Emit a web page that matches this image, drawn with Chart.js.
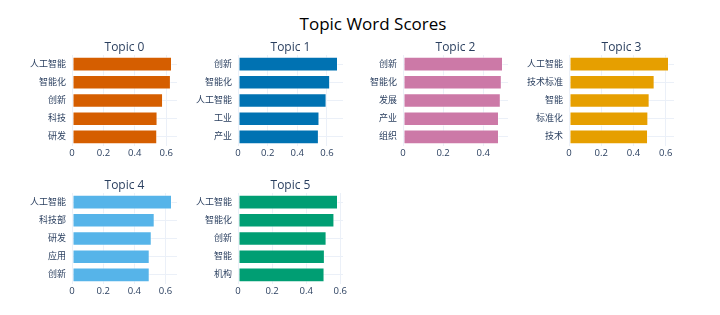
<!DOCTYPE html>
<html>
<head>
<meta charset="utf-8">
<script src="https://cdn.jsdelivr.net/npm/chart.js@4/dist/chart.umd.min.js"></script>
<style>
  html, body { margin: 0; padding: 0; background: #fff; }
  #page { position: relative; width: 720px; height: 315px; overflow: hidden; }
  #main-title {
    position: absolute; left: 0; top: 12px; width: 746px; text-align: center;
    font: 17px "Open Sans", "Noto Sans", sans-serif; color: #000;
  }
  .cell { position: absolute; }
</style>
</head>
<body>
<div id="page">
  <div id="main-title">Topic Word Scores</div>
</div>
<script>
// Topic Word Scores — one small horizontal bar chart per topic

const topicTitles = ['Topic 0', 'Topic 1', 'Topic 2', 'Topic 3', 'Topic 4', 'Topic 5'];

const words0 = ['人工智能', '智能化', '创新', '科技', '研发'];
const scores0 = [0.637, 0.630, 0.580, 0.545, 0.543];

const words1 = ['创新', '智能化', '人工智能', '工业', '产业'];
const scores1 = [0.675, 0.622, 0.598, 0.550, 0.546];

const words2 = ['创新', '智能化', '发展', '产业', '组织'];
const scores2 = [0.499, 0.493, 0.488, 0.479, 0.479];

const words3 = ['人工智能', '技术标准', '智能', '标准化', '技术'];
const scores3 = [0.620, 0.531, 0.500, 0.492, 0.490];

const words4 = ['人工智能', '科技部', '研发', '应用', '创新'];
const scores4 = [0.642, 0.531, 0.512, 0.499, 0.499];

const words5 = ['人工智能', '智能化', '创新', '智能', '机构'];
const scores5 = [0.587, 0.566, 0.520, 0.510, 0.508];

const allWords = [words0, words1, words2, words3, words4, words5];
const allScores = [scores0, scores1, scores2, scores3, scores4, scores5];
const barColors = ['#D55E00', '#0072B2', '#CC79A7', '#E69F00', '#56B4E9', '#009E73'];

// subplot grid (plot-area boxes, like plotly's make_subplots)
const colLefts = [72, 238, 403, 569];
const rowTops = [55, 192.5];
const plotW = 105;
const plotH = 91;
const yAxisW = 66;
const titleH = 15;
const xAxisH = 21;
const padRight = 8;

const FONT = '"Open Sans", "Noto Sans CJK SC", "Noto Sans", sans-serif';
const INK = '#2a3f5f';
const GRID = '#EBF0F8';

const page = document.getElementById('page');

allWords.forEach((words, i) => {
  const col = i % 4, row = Math.floor(i / 4);
  const w = yAxisW + plotW + padRight;
  const h = titleH + plotH + xAxisH;
  const div = document.createElement('div');
  div.className = 'cell';
  div.style.left = (colLefts[col] - yAxisW) + 'px';
  div.style.top = (rowTops[row] - titleH) + 'px';
  div.style.width = w + 'px';
  div.style.height = h + 'px';
  const cv = document.createElement('canvas');
  cv.width = w; cv.height = h;
  div.appendChild(cv);
  page.appendChild(div);

  const scores = allScores[i];
  new Chart(cv, {
    type: 'bar',
    data: {
      labels: words,
      datasets: [{
        data: scores,
        backgroundColor: barColors[i],
        borderColor: 'rgba(255,255,255,0.5)',
        borderWidth: 1,
        borderSkipped: false,
        barPercentage: 0.8,
        categoryPercentage: 1,
      }],
    },
    options: {
      indexAxis: 'y',
      responsive: false,
      animation: false,
      layout: { padding: { left: 0, right: padRight, top: 0, bottom: 0 } },
      plugins: {
        legend: { display: false },
        tooltip: { enabled: false },
        title: {
          display: true,
          fullSize: false, // centre over the plot area, not the canvas
          text: topicTitles[i],
          color: INK,
          font: { family: FONT, size: 12, weight: 'normal', lineHeight: 1.2 },
          padding: { top: 0, bottom: 0.6 },
        },
      },
      scales: {
        x: {
          min: 0,
          max: Math.max(...scores) * 1.05,
          border: { display: false },
          grid: { color: GRID, drawTicks: false },
          ticks: {
            stepSize: 0.2,
            includeBounds: false,
            color: INK,
            padding: 2,
            maxRotation: 0,
            font: { family: FONT, size: 9.5 },
          },
          afterFit: axis => { axis.height = xAxisH; },
        },
        y: {
          border: { display: false },
          grid: { color: GRID, drawTicks: false, offset: false },
          ticks: {
            color: INK,
            padding: 6,
            font: { family: FONT, size: 9 },
          },
          afterFit: axis => { axis.width = yAxisW; },
        },
      },
    },
  });
});
</script>
</body>
</html>
